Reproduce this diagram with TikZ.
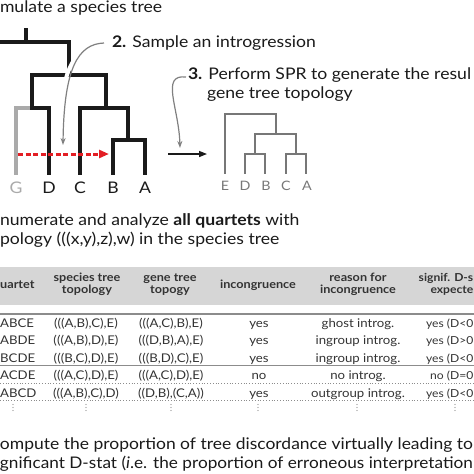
\documentclass[tikz,border=0pt]{standalone}
\usepackage{fontspec}
\setmainfont{Lato}[FakeStretch=1.1]
\usetikzlibrary{arrows.meta}
\definecolor{ink}{HTML}{1A1A1A}
\definecolor{tabtxt}{HTML}{333333}
\definecolor{ghost}{HTML}{AAAAAA}
\definecolor{genegray}{HTML}{777777}
\definecolor{arrgray}{HTML}{808080}
\definecolor{introred}{HTML}{E31E24}
\definecolor{band}{HTML}{D6D6D6}
\definecolor{rule}{HTML}{8C8C8C}
\tikzset{
  txt/.style={inner sep=0pt, outer sep=0pt, anchor=base west, text=ink, font=\fontsize{16}{19}\selectfont},
  tiplab/.style={inner sep=0pt, anchor=base, text=ink, font=\fontsize{16}{19}\selectfont},
  genelab/.style={inner sep=0pt, anchor=base, text=genegray, font=\fontsize{13}{15}\selectfont},
  sptree/.style={line width=4pt, ink, line join=miter, line cap=rect},
  ghosttree/.style={line width=4pt, ghost, line join=miter, line cap=rect},
  genetree/.style={line width=2pt, genegray, line join=miter, line cap=rect},
  callout/.style={line width=1.2pt, arrgray, -{Stealth[length=7pt,width=5pt]}},
  hdr/.style={inner sep=0pt, anchor=base, text=tabtxt, align=center, font=\bfseries\fontsize{11.5}{13}\selectfont},
  hdre/.style={inner sep=0pt, anchor=base east, text=tabtxt, font=\bfseries\fontsize{11}{13}\selectfont},
  cell/.style={inner sep=0pt, anchor=base, text=tabtxt, font=\fontsize{12}{14}\selectfont},
  cellw/.style={inner sep=0pt, anchor=base west, text=tabtxt, font=\fontsize{12}{14}\selectfont},
  celle/.style={inner sep=0pt, anchor=base east, text=tabtxt, font=\fontsize{11}{14}\selectfont},
  vdot/.style={circle, fill=rule, inner sep=0pt, minimum size=1.1pt},
}
\begin{document}
\begin{tikzpicture}[x=1pt,y=-1pt]
\path[use as bounding box] (0,0) rectangle (474,474);
\clip (0,0) rectangle (474,474);

% ---- texts, step 1-3
\node[txt] (t1) at (0,12) {mulate a species tree};
\node[txt] (t2) at (112,47) {\textbf{2.} Sample an introgression};
\node[txt] (t3) at (188,79) {\textbf{3.} Perform SPR to generate the resul};
\node[txt] (t3b) at (207,98) {gene tree topology};

% ---- species tree
\draw[ghosttree] (16,173) -- (16,108) -- (32,108);
\draw[sptree] (26,30) -- (26,42);
\draw[sptree] (0,42) -- (69,42) -- (69,75);
\draw[sptree] (32,108) -- (32,75) -- (106,75) -- (106,108);
\draw[sptree] (32,108) -- (49,108) -- (49,173);
\draw[sptree] (80,173) -- (80,108) -- (128,108) -- (128,140);
\draw[sptree] (113,173) -- (113,140) -- (145,140) -- (145,173);

\node[tiplab, text=ghost] (G) at (16,193) {G};
\node[tiplab] (D) at (49,193) {D};
\node[tiplab] (C) at (80,193) {C};
\node[tiplab] (B) at (113,193) {B};
\node[tiplab] (A) at (145,193) {A};

% introgression arrow
\coordinate (rs) at (18,154);
\coordinate (re) at (109,154);
\draw[introred, line width=3pt, dash pattern=on 5pt off 2.5pt,
      -{Triangle[length=10pt,width=8pt]}] (rs) -- (re);

% callout arrows
\coordinate (c2s) at (104,43);
\coordinate (c2e) at (63,145);
\draw[white, line width=4pt] (c2s) .. controls (78,44) and (64,68) .. (63,100);
\draw[callout] (c2s) .. controls (78,44) and (64,68) .. (c2e);
\coordinate (c3s) at (186,77);
\coordinate (c3e) at (180,148);
\draw[callout] (c3s) .. controls (160,74) and (179,108) .. (c3e);

% black arrow between trees
\coordinate (ba) at (168,154);
\coordinate (bb) at (207,154);
\draw[line width=1.4pt, ink, -{Triangle[length=8pt,width=6pt]}] (ba) -- (bb);

% ---- gene tree
\draw[genetree] (225,173) -- (225,114) -- (276,114) -- (276,134);
\draw[genetree] (255,154) -- (255,134) -- (296,134) -- (296,154);
\draw[genetree] (245,173) -- (245,154) -- (265,154) -- (265,173);
\draw[genetree] (286,173) -- (286,154) -- (306,154) -- (306,173);
\node[genelab] (gE) at (225,190) {E};
\node[genelab] (gD) at (245,190) {D};
\node[genelab] (gB) at (266,190) {B};
\node[genelab] (gC) at (286,190) {C};
\node[genelab] (gA) at (307,190) {A};

% ---- step 4 text
\node[txt] (t4a) at (0,225) {numerate and analyze \textbf{all quartets} with};
\node[txt] (t4b) at (0,244) {pology (((x,y),z),w) in the species tree};

% ---- table
\fill[band] (0,267) rectangle (474,305);
\node[hdr, anchor=base west] (h1) at (0,288) {uartet};
\node[hdr] (h2a) at (87,281) {species tree};
\node[hdr] (h2b) at (87,293) {topology};
\node[hdr] (h3a) at (170,281) {gene tree};
\node[hdr] (h3b) at (170,293) {topogy};
\node[hdr] (h4) at (258,288) {incongruence};
\node[hdr] (h5a) at (358,281) {reason for};
\node[hdr] (h5b) at (358,293) {incongruence};
\node[hdre] (h6a) at (473.5,281) {signif. D-s};
\node[hdre] (h6b) at (473.5,293) {expecte};

\draw[rule, line width=1.6pt] (0,314) -- (474,314);
\draw[rule, line width=1.3pt] (0,365.5) -- (474,365.5);
\draw[rule, line width=0.8pt, dotted] (0,383.5) -- (474,383.5);
\draw[rule, line width=0.8pt, dotted] (0,400.5) -- (474,400.5);

% rows
\foreach \y/\q/\s/\g/\i/\r/\d [count=\k] in {
  327/ABCE/{(((A,B),C),E)}/{(((A,C),B),E)}/yes/ghost introg./{yes (D<0},
  344.5/ABDE/{(((A,B),D),E)}/{(((D,B),A),E)}/yes/ingroup introg./{yes (D>0},
  362/BCDE/{(((B,C),D),E)}/{(((B,D),C),E)}/yes/ingroup introg./{yes (D<0},
  379.5/ACDE/{(((A,C),D),E)}/{(((A,C),D),E)}/no/no introg./{no (D=0},
  397/ABCD/{(((A,B),C),D)}/{((D,B),(C,A))}/yes/outgroup introg./{yes (D<0}}{
  \node[cellw] (q\k) at (0,\y) {\q};
  \node[cell] (s\k) at (86,\y) {\s};
  \node[cell] (g\k) at (171,\y) {\g};
  \node[cell] (i\k) at (259,\y) {\i};
  \node[cell] (r\k) at (358,\y) {\r};
  \node[celle] (d\k) at (473.5,\y) {\d};
}
\foreach \x [count=\k] in {13,86,171,258,357,455}{
  \node[vdot] (va\k) at (\x,404.5) {};
  \node[vdot] (vb\k) at (\x,407.5) {};
  \node[vdot] (vc\k) at (\x,410.5) {};
}

% ---- step 5 text
\node[txt] (t5a) at (0,449) {\resizebox{473pt}{\height}{ompute the proportion of tree discordance virtually leading to}};
\node[txt] (t5b) at (0,468) {\resizebox{473pt}{\height}{gnificant D-stat (\textit{i}.e. the proportion of erroneous interpretation}};
\end{tikzpicture}
\end{document}
